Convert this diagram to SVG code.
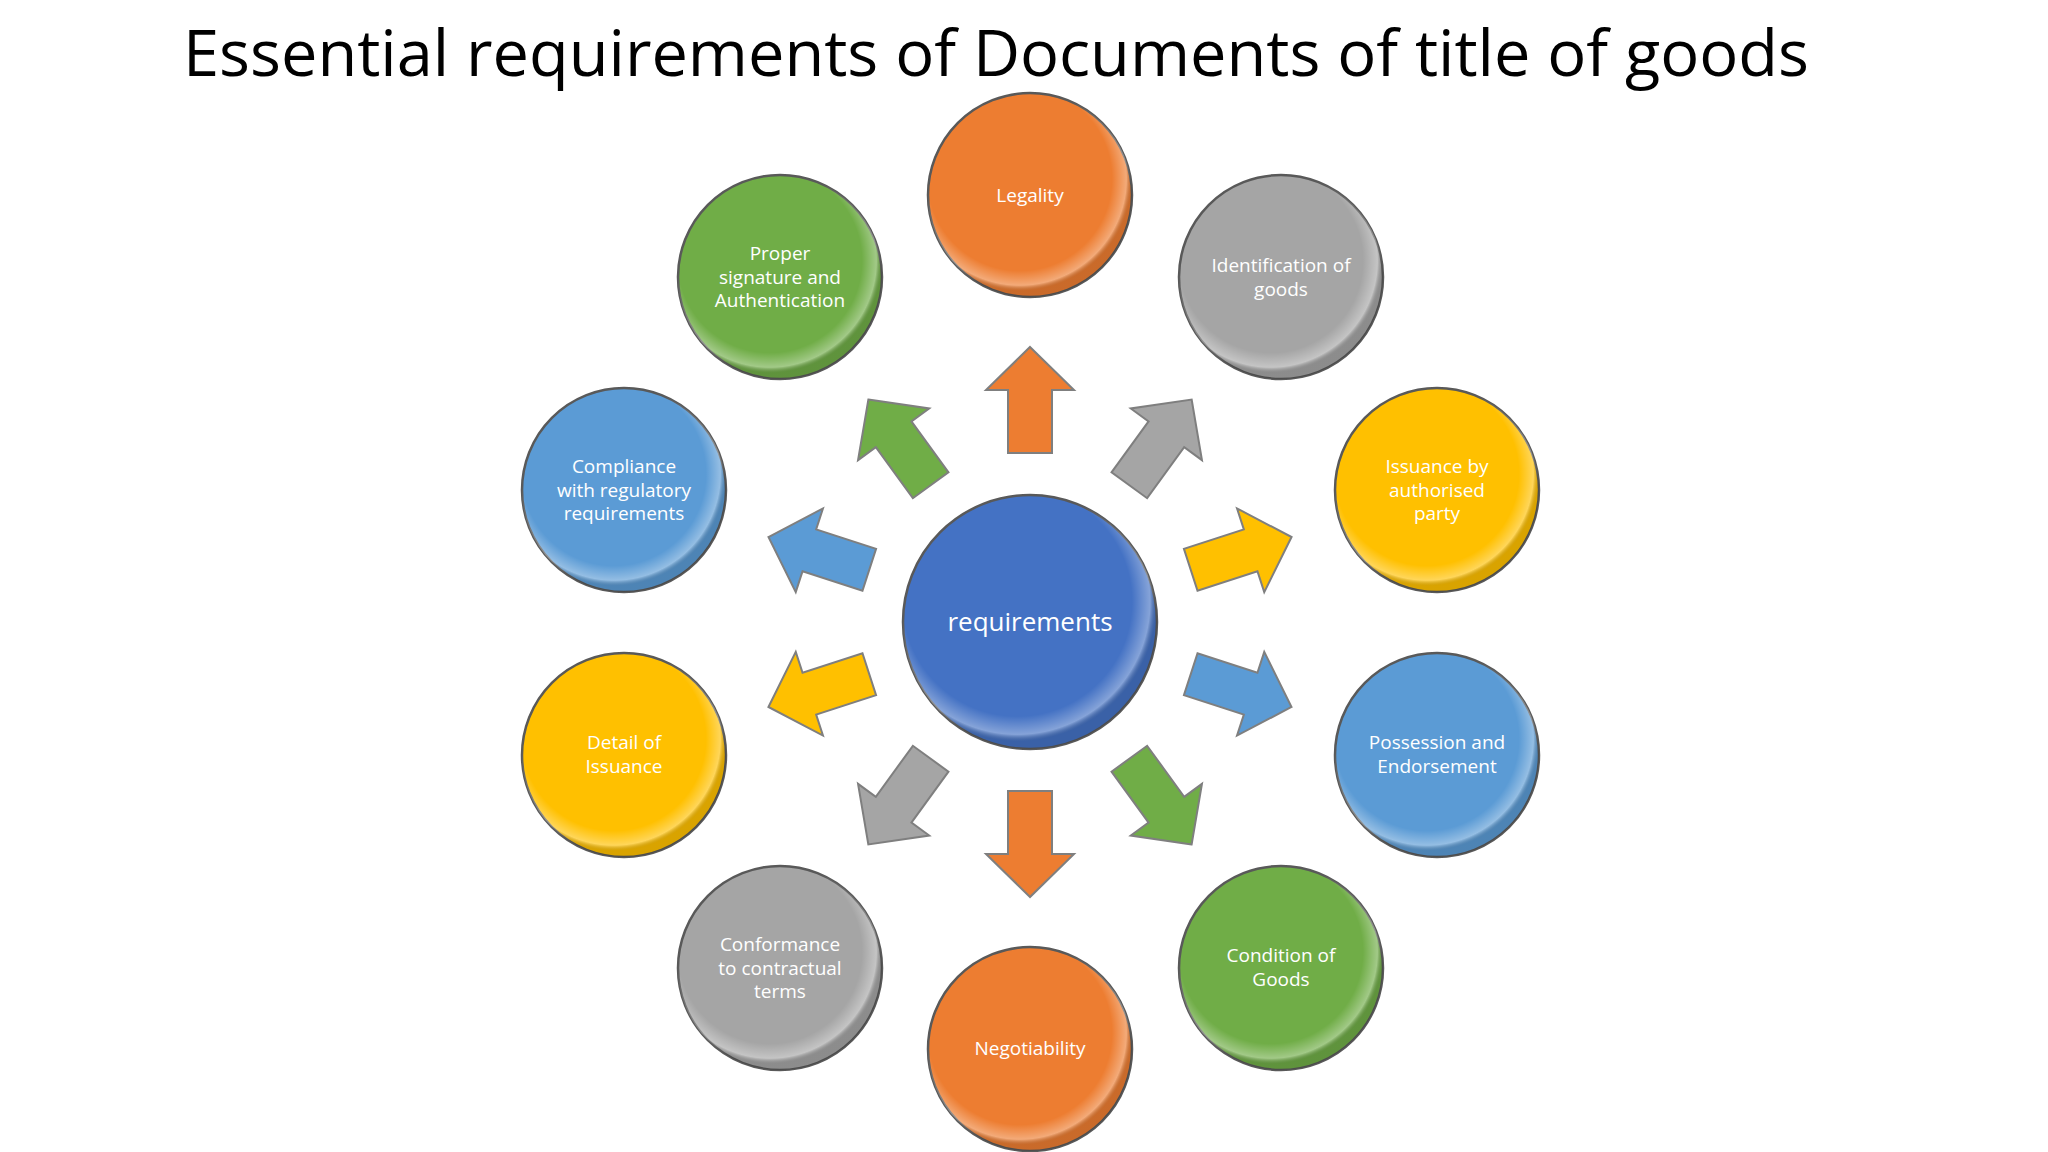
<svg xmlns="http://www.w3.org/2000/svg" width="2048" height="1152" viewBox="0 0 2048 1152">
<defs>
<radialGradient id="shine" cx="0.45" cy="0.42" r="0.55">
<stop offset="0.82" stop-color="#fff" stop-opacity="0"/>
<stop offset="0.95" stop-color="#fff" stop-opacity="0.35"/>
<stop offset="1" stop-color="#000" stop-opacity="0.15"/>
</radialGradient>
<path id="arr" d="M0,-53 L44,-10 L22,-10 L22,53 L-22,53 L-22,-10 L-44,-10 Z"/>
</defs>
<style>
.c{stroke:#595959;stroke-width:2.5}
.t{font-family:"Open Sans","Noto Sans",sans-serif;font-size:19px;fill:#fff;text-anchor:middle}
.a{stroke:#7f7f7f;stroke-width:2}
.o{fill:#ED7D31}.g{fill:#A5A5A5}.y{fill:#FFC000}.b{fill:#5B9BD5}.n{fill:#70AD47}
</style>
<rect width="2048" height="1152" fill="#fff"/>
<text x="996" y="76" font-family="Open Sans, Noto Sans, sans-serif" font-size="64" fill="#000" text-anchor="middle" textLength="1626" lengthAdjust="spacingAndGlyphs">Essential requirements of Documents of title of goods</text>
<g id="connectors">
<use href="#arr" class="a o" transform="translate(1030,622) rotate(0) translate(0,-222)"/>
<use href="#arr" class="a g" transform="translate(1030,622) rotate(36) translate(0,-222)"/>
<use href="#arr" class="a y" transform="translate(1030,622) rotate(72) translate(0,-222)"/>
<use href="#arr" class="a b" transform="translate(1030,622) rotate(108) translate(0,-222)"/>
<use href="#arr" class="a n" transform="translate(1030,622) rotate(144) translate(0,-222)"/>
<use href="#arr" class="a o" transform="translate(1030,622) rotate(180) translate(0,-222)"/>
<use href="#arr" class="a g" transform="translate(1030,622) rotate(216) translate(0,-222)"/>
<use href="#arr" class="a y" transform="translate(1030,622) rotate(252) translate(0,-222)"/>
<use href="#arr" class="a b" transform="translate(1030,622) rotate(288) translate(0,-222)"/>
<use href="#arr" class="a n" transform="translate(1030,622) rotate(324) translate(0,-222)"/>
</g>
<g id="center"><circle cx="1030" cy="622" r="127" fill="#4472C4" class="c"/><circle cx="1030" cy="622" r="127" fill="url(#shine)"/><text x="1030" y="631" class="t" style="font-size:26px">requirements</text></g>
<g id="legality"><circle cx="1030" cy="195" r="102" class="c o"/><circle cx="1030" cy="195" r="102" fill="url(#shine)"/><text x="1030" y="202" class="t">Legality</text></g>
<g id="identification"><circle cx="1281" cy="277" r="102" class="c g"/><circle cx="1281" cy="277" r="102" fill="url(#shine)"/><text x="1281" y="272" class="t">Identification of</text><text x="1281" y="296" class="t">goods</text></g>
<g id="issuance"><circle cx="1437" cy="490" r="102" class="c y"/><circle cx="1437" cy="490" r="102" fill="url(#shine)"/><text x="1437" y="473" class="t">Issuance by</text><text x="1437" y="497" class="t">authorised</text><text x="1437" y="520" class="t">party</text></g>
<g id="possession"><circle cx="1437" cy="755" r="102" class="c b"/><circle cx="1437" cy="755" r="102" fill="url(#shine)"/><text x="1437" y="749" class="t">Possession and</text><text x="1437" y="773" class="t">Endorsement</text></g>
<g id="condition"><circle cx="1281" cy="968" r="102" class="c n"/><circle cx="1281" cy="968" r="102" fill="url(#shine)"/><text x="1281" y="962" class="t">Condition of</text><text x="1281" y="986" class="t">Goods</text></g>
<g id="negotiability"><circle cx="1030" cy="1049" r="102" class="c o"/><circle cx="1030" cy="1049" r="102" fill="url(#shine)"/><text x="1030" y="1055" class="t">Negotiability</text></g>
<g id="conformance"><circle cx="780" cy="968" r="102" class="c g"/><circle cx="780" cy="968" r="102" fill="url(#shine)"/><text x="780" y="951" class="t">Conformance</text><text x="780" y="975" class="t">to contractual</text><text x="780" y="998" class="t">terms</text></g>
<g id="detail"><circle cx="624" cy="755" r="102" class="c y"/><circle cx="624" cy="755" r="102" fill="url(#shine)"/><text x="624" y="749" class="t">Detail of</text><text x="624" y="773" class="t">Issuance</text></g>
<g id="compliance"><circle cx="624" cy="490" r="102" class="c b"/><circle cx="624" cy="490" r="102" fill="url(#shine)"/><text x="624" y="473" class="t">Compliance</text><text x="624" y="497" class="t">with regulatory</text><text x="624" y="520" class="t">requirements</text></g>
<g id="proper"><circle cx="780" cy="277" r="102" class="c n"/><circle cx="780" cy="277" r="102" fill="url(#shine)"/><text x="780" y="260" class="t">Proper</text><text x="780" y="284" class="t">signature and</text><text x="780" y="307" class="t">Authentication</text></g>
</svg>
